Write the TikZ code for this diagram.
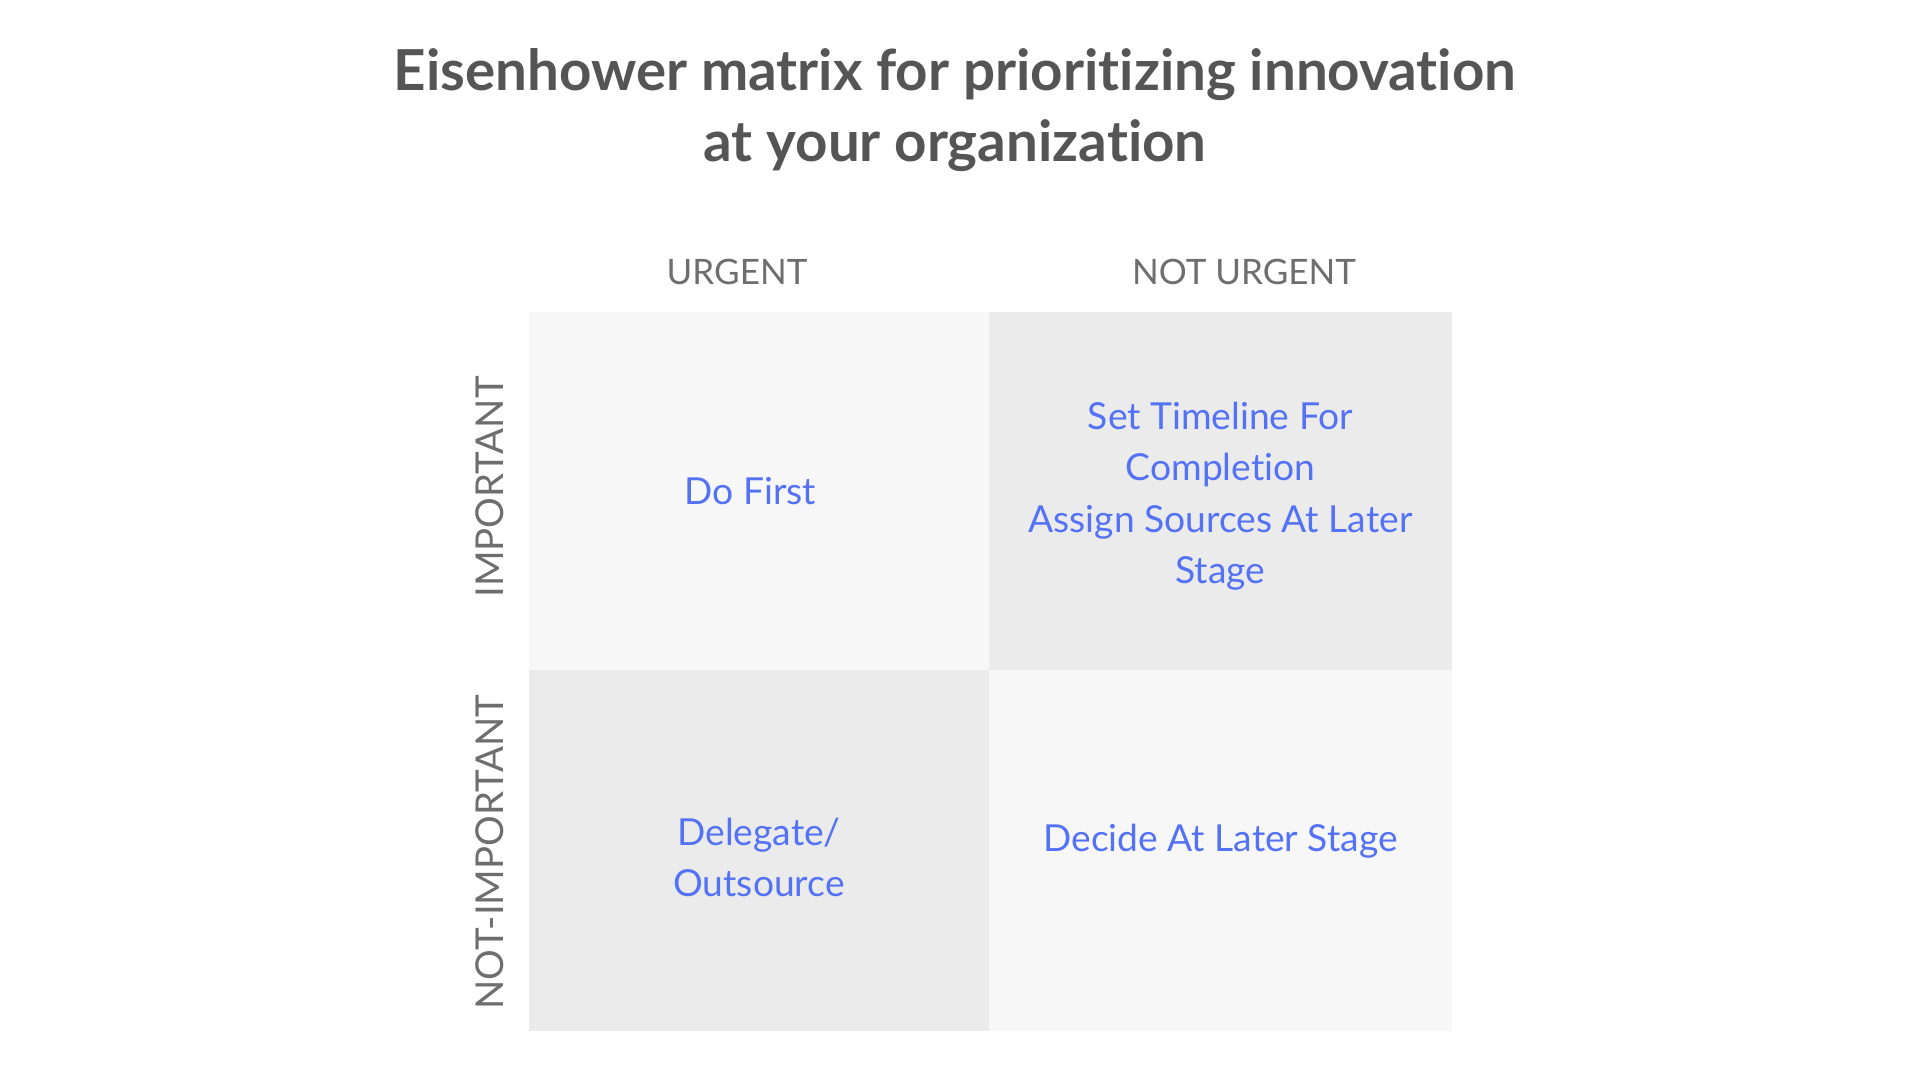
\documentclass[tikz,border=0pt]{standalone}
\usepackage{fontspec}
\setmainfont{Lato}[Ligatures={NoCommon,NoRare}]
\usetikzlibrary{positioning}
\definecolor{titlegray}{HTML}{555555}
\definecolor{headgray}{HTML}{6E6E6E}
\definecolor{cellblue}{HTML}{5472F5}
\definecolor{celllight}{HTML}{F7F7F7}
\definecolor{celldark}{HTML}{EBEBEB}
\tikzset{cell/.style={rectangle, inner sep=0pt},
  task/.style={text=cellblue, align=center, font=\fontsize{37.2}{51.5}\selectfont},
  head/.style={text=headgray, font=\fontsize{35}{42}\selectfont},
  side/.style={text=headgray, rotate=90, font=\fontsize{38.4}{46}\selectfont}}

\begin{document}
\begin{tikzpicture}[x=1pt,y=-1pt]
\useasboundingbox[fill=white] (0,0) rectangle (1920,1080);
\node (title) at (955,110.5) [align=center, text=titlegray, font=\fontsize{56.5}{71}\bfseries\selectfont] {Eisenhower matrix for prioritizing innovation\\at your organization};
% quadrants
\node (tl) at (759,491) [cell, fill=celllight, minimum width=460pt, minimum height=358pt] {};
\node (tr) at (1220.5,491) [cell, fill=celldark, minimum width=463pt, minimum height=358pt] {};
\node (bl) at (759,850.5) [cell, fill=celldark, minimum width=460pt, minimum height=361pt] {};
\node (br) at (1220.5,850.5) [cell, fill=celllight, minimum width=463pt, minimum height=361pt] {};
\node (dofirst) at (tl) [task, xshift=-8.5pt] {Do First};
\node (timeline) at (tr) [task, yshift=-5pt] {Set Timeline For\\Completion\\Assign Sources At Later\\Stage};
\node (delegate) at (bl) [task, yshift=-7pt] {Delegate/\\Outsource};
\node (decide) at (br) [task, yshift=9pt] {Decide At Later Stage};
% axis labels
\node (urgent) at (737,272) [head] {URGENT};
\node (noturgent) at (1244,272) [head] {NOT URGENT};
\node (important) at (490,487) [side] {IMPORTANT};
\node (notimportant) at (490,852) [side] {NOT-IMPORTANT};
\end{tikzpicture}
\end{document}
